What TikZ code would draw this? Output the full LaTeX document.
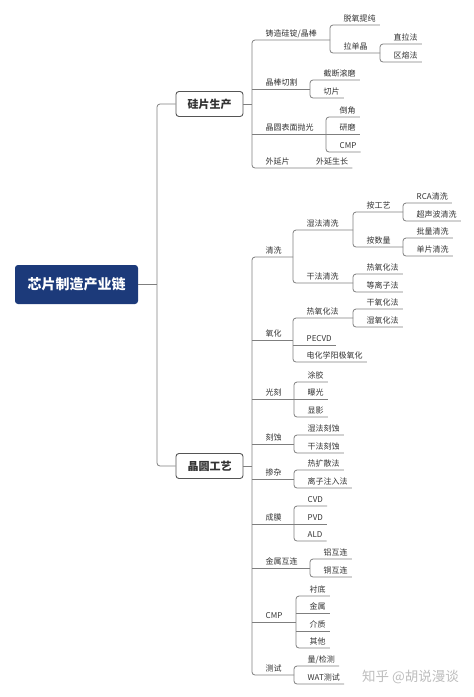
\documentclass[tikz,border=0pt]{standalone}
\usepackage{fontspec}
\newfontfamily\cjk{Noto Sans CJK SC}
\definecolor{linec}{HTML}{7F7F7F}
\definecolor{txtc}{HTML}{333333}
\definecolor{boxc}{HTML}{555555}
\definecolor{rootc}{HTML}{1C3A7A}
\definecolor{wmc}{HTML}{BDBDBD}
% leaf: name, left (bracket) x, underline y, text
\newcommand\leafnode[4]{%
  \node[lbl] (#1) at (#2+13.5,#3-3.8) {#4};
  \coordinate (#1-w) at (#2,#3);
  \coordinate (#1-e) at ([shift={(4,3.8)}]#1.base east);}
% parent: name, left x, underline y, text, own bracket x
\newcommand\parnode[5]{%
  \node[lbl] (#1) at (#2+13.5,#3-3.8) {#4};
  \coordinate (#1-w) at (#2,#3);
  \coordinate (#1-e) at (#5,#3);}
\begin{document}
\begin{tikzpicture}[x=1pt,y=-1pt,
  conn/.style={draw=linec, line width=0.8pt, rounded corners=3pt},
  lbl/.style={font=\cjk\fontsize{8}{9}\selectfont, text=txtc, inner sep=0pt, anchor=base west},
  topbox/.style={draw=boxc, line width=0.9pt, fill=white, rounded corners=3pt,
    font=\cjk\bfseries\fontsize{11}{12}\selectfont, text=txtc,
    minimum width=67pt, minimum height=25pt, inner sep=0pt},
  rootbox/.style={fill=rootc, rounded corners=3pt,
    font=\cjk\bfseries\fontsize{14}{15}\selectfont, text=white,
    minimum width=123pt, minimum height=39pt, inner sep=0pt},
  wmark/.style={font=\cjk\fontsize{13.5}{14}\selectfont, text=wmc, inner sep=0pt, anchor=west}]
\useasboundingbox (0,0) rectangle (474,697);

% main boxes
\node[rootbox] (root) at (76.5,284.5) {芯片制造产业链};
\node[topbox] (si) at (209.5,104) {硅片生产};
\node[topbox] (jy) at (209.5,466) {晶圆工艺};
\coordinate (spine) at (157,284.5);
\draw[conn] (si.west) -- (si.west -| spine) -- (jy.west -| spine) -- (jy.west);
\draw[conn] (root.east) -- (spine);

% ---------- 硅片生产 ----------
\parnode{a1}{252}{40}{铸造硅锭/晶棒}{330}
\leafnode{a11}{330}{25}{脱氧提纯}
\parnode{a12}{330}{53}{拉单晶}{380}
\leafnode{a121}{380}{44}{直拉法}
\leafnode{a122}{380}{62}{区熔法}
\parnode{a2}{252}{89}{晶棒切割}{310}
\leafnode{a21}{310}{80}{截断滚磨}
\leafnode{a22}{310}{98}{切片}
\parnode{a3}{252}{134}{晶圆表面抛光}{326}
\leafnode{a31}{326}{117}{倒角}
\leafnode{a32}{326}{134}{研磨}
\leafnode{a33}{326}{152}{CMP}
\leafnode{a4}{252}{168}{外延片}
\leafnode{a41}{302.5}{168}{外延生长}

\draw[conn] (si.east) -- (si.east -| a1-w);
\draw[conn] (a1-e) -- (a1-w) -- (a4-w) -- (a41-e);
\draw[conn] (a2-w) -- (a2-e);
\draw[conn] (a3-w) -- (a3-e);
\draw[conn] (a11-e) -- (a11-w) -- (a12-w) -- (a12-e);
\draw[conn] (a121-e) -- (a121-w) -- (a122-w) -- (a122-e);
\draw[conn] (a21-e) -- (a21-w) -- (a22-w) -- (a22-e);
\draw[conn] (a31-e) -- (a31-w) -- (a33-w) -- (a33-e);
\draw[conn] (a32-w) -- (a32-e);

% ---------- 晶圆工艺 ----------
\parnode{b1}{252}{257}{清洗}{293}
\parnode{b11}{293}{230}{湿法清洗}{353}
\parnode{b111}{353}{212}{按工艺}{403}
\leafnode{b1111}{403}{203}{RCA清洗}
\leafnode{b1112}{403}{221}{超声波清洗}
\parnode{b112}{353}{247}{按数量}{403}
\leafnode{b1121}{403}{238}{批量清洗}
\leafnode{b1122}{403}{256}{单片清洗}
\parnode{b12}{293}{283}{干法清洗}{353}
\leafnode{b121}{353}{274}{热氧化法}
\leafnode{b122}{353}{292}{等离子法}

\parnode{b2}{252}{340}{氧化}{293}
\parnode{b21}{293}{318}{热氧化法}{353}
\leafnode{b211}{353}{309}{干氧化法}
\leafnode{b212}{353}{327}{湿氧化法}
\leafnode{b22}{293}{345}{PECVD}
\leafnode{b23}{293}{362}{电化学阳极氧化}

\parnode{b3}{252}{399}{光刻}{294}
\leafnode{b31}{294}{382}{涂胶}
\leafnode{b32}{294}{399}{曝光}
\leafnode{b33}{294}{417}{显影}

\parnode{b4}{252}{444}{刻蚀}{294}
\leafnode{b41}{294}{435}{湿法刻蚀}
\leafnode{b42}{294}{453}{干法刻蚀}

\parnode{b5}{252}{479}{掺杂}{294}
\leafnode{b51}{294}{470}{热扩散法}
\leafnode{b52}{294}{488}{离子注入法}

\parnode{b6}{252}{524}{成膜}{294}
\leafnode{b61}{294}{506}{CVD}
\leafnode{b62}{294}{524}{PVD}
\leafnode{b63}{294}{541}{ALD}

\parnode{b7}{252}{568}{金属互连}{310}
\leafnode{b71}{310}{559}{铝互连}
\leafnode{b72}{310}{577}{铜互连}

\parnode{b8}{252}{622}{CMP}{296}
\leafnode{b81}{296}{596}{衬底}
\leafnode{b82}{296}{613}{金属}
\leafnode{b83}{296}{631}{介质}
\leafnode{b84}{296}{648}{其他}

\parnode{b9}{252}{675}{测试}{294}
\leafnode{b91}{294}{666}{量/检测}
\leafnode{b92}{294}{684}{WAT测试}

\draw[conn] (jy.east) -- (jy.east -| b1-w);
\draw[conn] (b1-e) -- (b1-w) -- (b9-w) -- (b9-e);
\foreach \n in {b2,b3,b4,b5,b6,b7,b8} \draw[conn] (\n-w) -- (\n-e);

\draw[conn] (b11-e) -- (b11-w) -- (b12-w) -- (b12-e);
\draw[conn] (b111-e) -- (b111-w) -- (b112-w) -- (b112-e);
\draw[conn] (b1111-e) -- (b1111-w) -- (b1112-w) -- (b1112-e);
\draw[conn] (b1121-e) -- (b1121-w) -- (b1122-w) -- (b1122-e);
\draw[conn] (b121-e) -- (b121-w) -- (b122-w) -- (b122-e);

\draw[conn] (b21-e) -- (b21-w) -- (b23-w) -- (b23-e);
\draw[conn] (b22-w) -- (b22-e);
\draw[conn] (b211-e) -- (b211-w) -- (b212-w) -- (b212-e);

\draw[conn] (b31-e) -- (b31-w) -- (b33-w) -- (b33-e);
\draw[conn] (b32-w) -- (b32-e);
\draw[conn] (b41-e) -- (b41-w) -- (b42-w) -- (b42-e);
\draw[conn] (b51-e) -- (b51-w) -- (b52-w) -- (b52-e);
\draw[conn] (b61-e) -- (b61-w) -- (b63-w) -- (b63-e);
\draw[conn] (b62-w) -- (b62-e);
\draw[conn] (b71-e) -- (b71-w) -- (b72-w) -- (b72-e);
\draw[conn] (b81-e) -- (b81-w) -- (b84-w) -- (b84-e);
\draw[conn] (b82-w) -- (b82-e);
\draw[conn] (b83-w) -- (b83-e);
\draw[conn] (b91-e) -- (b91-w) -- (b92-w) -- (b92-e);

% watermark
\node[wmark] (wm) at (362,677) {知乎 @胡说漫谈};
\end{tikzpicture}
\end{document}
